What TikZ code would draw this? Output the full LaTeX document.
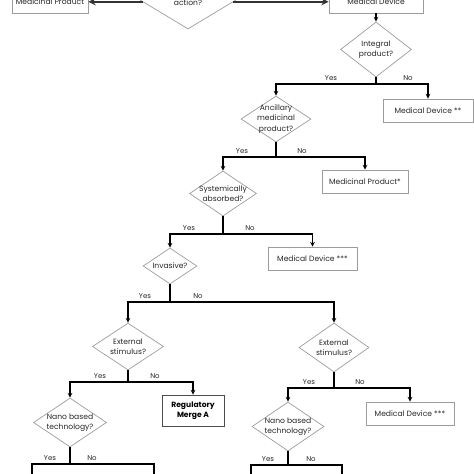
\documentclass[tikz,border=0pt]{standalone}
\usepackage{fontspec}
\setmainfont{Poppins}
\usetikzlibrary{shapes.geometric}
\definecolor{txtgray}{HTML}{262626}
\definecolor{boxgray}{HTML}{9C9C9C}
\tikzset{>=stealth,
	decision/.style={diamond, draw=boxgray, line width=0.7pt, text=txtgray,
		align=center, inner sep=-8pt, font=\fontsize{7.6}{10.5}\selectfont},
	outcome/.style={rectangle, draw=boxgray, line width=0.8pt, text=txtgray,
		inner sep=0pt, font=\fontsize{7.6}{9}\selectfont},
	merge/.style={rectangle, draw=black!70, line width=1pt, align=center,
		inner sep=0pt, font=\bfseries\fontsize{7.6}{10.5}\selectfont},
	wire/.style={draw=black, line width=1.1pt},
	conn/.style={->, draw=black, line width=1.1pt},
	yn/.style={above, pos=0, text=txtgray, inner sep=2.5pt,
		font=\fontsize{7}{8}\selectfont}}

\begin{document}
\begin{tikzpicture}[x=1pt,y=-1pt]
	\useasboundingbox (0,0) rectangle (474,474);
	\clip (0,0) rectangle (474,474);
	% first question
	\node[decision, minimum width=106pt, minimum height=64pt] (pa) at (188,-3) {Pharmacological\\action?};
	\node[outcome, minimum width=76pt, minimum height=23pt] (mp) at (50,1.5) {Medicinal Product};
	\node[outcome, minimum width=94pt, minimum height=23pt] (md) at (376,1.5) {Medical Device};
	\draw[conn, line width=2.2pt, draw=black!80] (pa.186) -- (pa.186 -| mp.east);
	\draw[conn, line width=2.2pt, draw=black!80] (pa.-6) -- (pa.-6 -| md.west);
	% device branch
	\node[decision, minimum width=71pt, minimum height=55pt] (ip) at (376,49.5) {Integral\\product?};
	\node[outcome, minimum width=90pt, minimum height=23pt] (md2) at (428,110.5) {Medical Device **};
	\node[decision, minimum width=70pt, minimum height=46pt] (amp) at (276,119) {Ancillary\\medicinal\\product?};
	\node[outcome, minimum width=86pt, minimum height=23pt] (mp2) at (365,181.5) {Medicinal Product*};
	\node[decision, minimum width=67pt, minimum height=45pt] (sa) at (223,193.5) {Systemically\\absorbed?};
	\node[outcome, minimum width=89pt, minimum height=23pt] (md3) at (312.5,258.5) {Medical Device ***};
	\node[decision, minimum width=54pt, minimum height=36pt] (inv) at (170,266) {Invasive?};
	% invasive / non invasive
	\node[decision, minimum width=71pt, minimum height=47pt] (esl) at (128,346.5) {External\\stimulus?};
	\node[decision, minimum width=70pt, minimum height=49pt] (esr) at (334,347.5) {External\\stimulus?};
	\node[merge, minimum width=62pt, minimum height=31pt] (rma) at (193,410.5) {Regulatory\\Merge A};
	\node[outcome, minimum width=88pt, minimum height=23pt] (md4) at (410,413.5) {Medical Device ***};
	\node[decision, minimum width=73pt, minimum height=49pt] (nbl) at (70,422.5) {Nano based\\technology?};
	\node[decision, minimum width=72pt, minimum height=49pt] (nbr) at (288,426.5) {Nano based\\technology?};
	\coordinate (nlA) at (32,474);
	\coordinate (nlB) at (154,474);
	\coordinate (nrA) at (251,474);
	\coordinate (nrB) at (342,474);
	
	\draw[conn] (md.south) -- (ip.north);
	\draw[wire] (ip.south) -- (376,84) coordinate (ipj);
	\draw[conn] (ipj) -| node[yn, xshift=-45pt] (ipY) {Yes} (amp.north);
	\draw[conn] (ipj) -| node[yn, xshift=32pt] (ipN) {No} (md2.north);
	\draw[wire] (amp.south) -- (276,157) coordinate (ampj);
	\draw[conn] (ampj) -| node[yn, xshift=-34pt] (ampY) {Yes} (sa.north);
	\draw[conn] (ampj) -| node[yn, xshift=26pt] (ampN) {No} (mp2.north);
	\draw[wire] (sa.south) -- (223,234) coordinate (saj);
	\draw[conn] (saj) -| node[yn, xshift=-34pt] (saY) {Yes} (inv.north);
	\draw[conn] (saj) -| node[yn, xshift=27pt] (saN) {No} (md3.north);
	\draw[wire] (inv.south) -- (170,302) coordinate (invj);
	\draw[conn] (invj) -| node[yn, xshift=-25pt] (invY) {Yes} (esl.north);
	\draw[conn] (invj) -| node[yn, xshift=28pt] (invN) {No} (esr.north);
	\draw[wire] (esl.south) -- (128,382) coordinate (eslj);
	\draw[conn] (eslj) -| node[yn, xshift=-28pt] (eslY) {Yes} (nbl.north);
	\draw[conn] (eslj) -| node[yn, xshift=27pt] (eslN) {No} (rma.north);
	\draw[wire] (esr.south) -- (334,388) coordinate (esrj);
	\draw[conn] (esrj) -| node[yn, xshift=-25pt] (esrY) {Yes} (nbr.north);
	\draw[conn] (esrj) -| node[yn, xshift=26pt] (esrN) {No} (md4.north);
	\draw[wire] (nbl.south) -- (70,464) coordinate (nblj);
	\draw[wire] (nblj) -| node[yn, xshift=-20pt] (nblY) {Yes} (nlA);
	\draw[wire] (nblj) -| node[yn, xshift=22pt] (nblN) {No} (nlB);
	\draw[wire] (nbr.south) -- (288,465) coordinate (nbrj);
	\draw[wire] (nbrj) -| node[yn, xshift=-20pt] (nbrY) {Yes} (nrA);
	\draw[wire] (nbrj) -| node[yn, xshift=23pt] (nbrN) {No} (nrB);
\end{tikzpicture}
\end{document}
